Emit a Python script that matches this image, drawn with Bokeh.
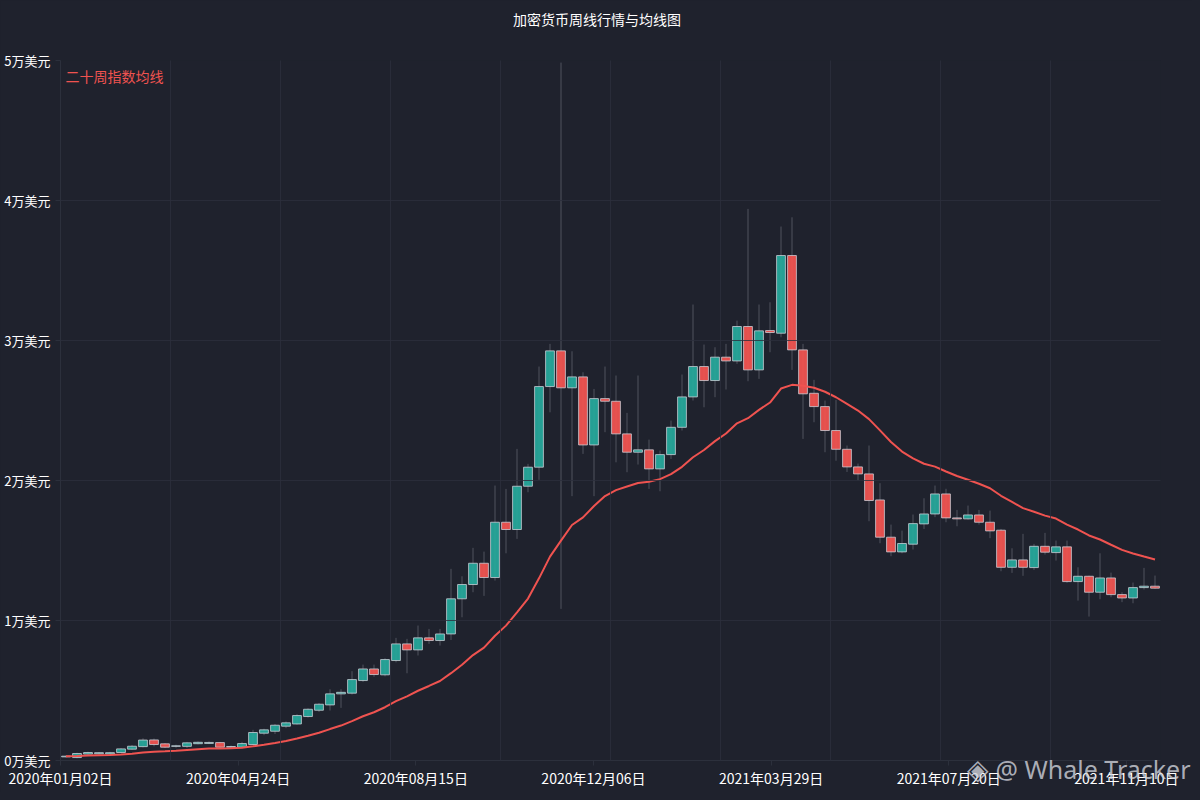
import pandas as pd
from bokeh.plotting import figure
from bokeh.models import ColumnDataSource, FixedTicker, Label, Range1d, Div
from bokeh.embed import file_html
from bokeh.resources import INLINE

# ---------------- data ----------------
title_text = "加密货币周线行情与均线图"
legend_text = "二十周指数均线"
watermark_icon = "◈"
watermark_text = "@ Whale Tracker"

opens = [260, 210, 460, 480, 470, 570, 810, 990, 1470, 1190,
         1010, 1010, 1200, 1220, 1280, 950, 950, 1140, 1950, 2090,
         2450, 2610, 3140, 3590, 3970, 4760, 4810, 5710, 6540, 6120,
         7140, 8330, 7900, 8760, 8570, 9040, 11550, 12570, 14090, 13070,
         17020, 16500, 19590, 20950, 26710, 29260, 26620, 27400, 22540, 25850,
         25660, 23330, 22020, 22190, 20830, 21850, 23800, 25970, 28140, 27140,
         28810, 28540, 31000, 27900, 30710, 30520, 36070, 29330, 26230, 25280,
         23570, 22230, 20970, 20470, 18610, 15950, 14900, 15450, 16900, 17610,
         19040, 17330, 17260, 17540, 17020, 16450, 13800, 14330, 13780, 15300,
         14850, 15260, 12780, 13160, 12020, 13040, 11850, 11610, 12350, 12450]
highs = [360, 560, 630, 610, 620, 890, 1110, 1590, 1570, 1250,
         1130, 1330, 1360, 1370, 1330, 1070, 1330, 2190, 2270, 2610,
         2790, 3310, 3730, 4110, 5090, 5090, 6380, 6850, 6850, 7310,
         8760, 8690, 9640, 9400, 9400, 13690, 13160, 15190, 14920, 19640,
         19400, 22260, 21190, 28140, 29760, 49850, 29230, 27730, 26540, 28140,
         27500, 24830, 27500, 22920, 22140, 24280, 27570, 32570, 29710, 29520,
         29760, 31420, 39400, 32570, 32730, 38140, 38800, 29760, 27190, 25710,
         25760, 22500, 21210, 22500, 19810, 16850, 16420, 17570, 18730, 19640,
         19410, 17900, 18210, 17900, 17850, 16540, 15160, 16190, 15470, 16260,
         15710, 15710, 13800, 13210, 14800, 13420, 12020, 12710, 13760, 13210]
lows = [210, 160, 410, 430, 410, 530, 760, 930, 1010, 890,
        910, 890, 1150, 1170, 910, 830, 910, 1090, 1810, 1890,
        2310, 2560, 3060, 3460, 3570, 3760, 4710, 5610, 5980, 6010,
        7010, 6230, 7500, 8330, 8210, 8610, 10230, 12020, 11760, 12850,
        14800, 15830, 19160, 20050, 24870, 10830, 18880, 21900, 18880, 23450,
        21300, 20590, 21140, 19400, 19230, 21540, 23570, 25710, 25230, 25950,
        26500, 28330, 27090, 27260, 29160, 30230, 27900, 22970, 24160, 22020,
        21410, 20610, 20010, 17090, 15520, 14590, 14800, 15070, 16540, 17380,
        17020, 16730, 17210, 16850, 15880, 13520, 13400, 13190, 13610, 14710,
        14280, 12690, 11420, 10280, 11520, 11660, 11310, 11230, 12210, 12260]
closes = [310, 500, 570, 560, 560, 830, 1020, 1460, 1140, 950,
          1050, 1260, 1300, 1290, 950, 1000, 1210, 2000, 2190, 2520,
          2690, 3210, 3660, 4020, 4760, 4870, 5780, 6540, 6140, 7210,
          8330, 7900, 8760, 8570, 9040, 11550, 12570, 14090, 13070, 17020,
          16500, 19590, 20950, 26710, 29260, 26620, 27400, 22540, 25850, 25660,
          23330, 22020, 22190, 20830, 21850, 23800, 25970, 28140, 27140, 28810,
          28540, 31000, 27900, 30690, 30570, 36070, 29330, 26190, 25280, 23570,
          22230, 20970, 20470, 18570, 15950, 14900, 15500, 16920, 17610, 19040,
          17330, 17260, 17540, 17020, 16400, 13800, 14330, 13800, 15300, 14880,
          15260, 12780, 13160, 12020, 13040, 11850, 11610, 12350, 12450, 12310]

x_tick_pos = [-0.5, 15.65, 31.8, 47.95, 64.1, 80.25, 96.4]
x_tick_labels = ["2020年01月02日", "2020年04月24日", "2020年08月15日", "2020年12月06日",
                 "2021年03月29日", "2021年07月20日", "2021年11月10日"]
y_ticks = [0, 10000, 20000, 30000, 40000, 50000]
y_tick_labels = ["0万美元", "1万美元", "2万美元", "3万美元", "4万美元", "5万美元"]

# ---------------- styling ----------------
BG = "#1f222d"
GRID = "#2c303c"
UP = "#26a69a"
DOWN = "#ef5350"
FONT = "Noto Sans CJK SC"

df = pd.DataFrame({"open": opens, "high": highs, "low": lows, "close": closes})
df["idx"] = range(len(df))
df["top"] = df[["open", "close"]].max(axis=1)
df["bottom"] = df[["open", "close"]].min(axis=1)
df["color"] = [UP if c >= o else DOWN for o, c in zip(df["open"], df["close"])]
df["ema"] = df["close"].ewm(span=20, adjust=False).mean()
src = ColumnDataSource(df)

p = figure(width=1192, height=792,
           x_range=Range1d(-0.5, len(df) - 0.5), y_range=Range1d(y_ticks[0], y_ticks[-1]),
           output_backend="svg", toolbar_location=None,
           background_fill_color=BG, border_fill_color=BG, outline_line_color=None,
           min_border_left=60, min_border_right=32, min_border_top=60, min_border_bottom=32)

p.segment(x0="idx", y0="high", x1="idx", y1="low", source=src,
          line_color="#787b86", line_alpha=0.55, line_width=1)
p.vbar(x="idx", width=0.8, top="top", bottom="bottom", source=src,
       fill_color="color", fill_alpha=0.95, line_color="#d1d4dc", line_alpha=0.75, line_width=1)
p.line(x="idx", y="ema", source=src, line_color=DOWN, line_width=2)

# grids
p.xgrid.ticker = FixedTicker(ticks=[-0.5 + 10 * k for k in range(11)])
p.ygrid.ticker = FixedTicker(ticks=y_ticks)
for g in (p.xgrid, p.ygrid):
    g.grid_line_color = GRID
    g.grid_line_alpha = 0.8
    g.grid_line_width = 1
    g.level = "overlay"

# axes
p.xaxis.ticker = FixedTicker(ticks=x_tick_pos)
p.xaxis.major_label_overrides = {t: l for t, l in zip(x_tick_pos, x_tick_labels)}
p.yaxis.ticker = FixedTicker(ticks=y_ticks)
p.yaxis.major_label_overrides = {t: l for t, l in zip(y_ticks, y_tick_labels)}
for ax in (p.xaxis, p.yaxis):
    ax.axis_line_color = GRID
    ax.major_tick_line_color = GRID
    ax.minor_tick_line_color = None
    ax.major_tick_out = 5
    ax.major_tick_in = 0
    ax.major_label_text_color = "#ffffff"
    ax.major_label_text_font = FONT
p.xaxis.major_label_text_font_size = "14px"
p.yaxis.major_label_text_font_size = "13px"
p.xaxis.major_label_standoff = 2
p.yaxis.major_label_standoff = 5

# legend-like label
p.add_layout(Label(x=-0.5, y=y_ticks[-1], x_offset=5, y_offset=-5, text=legend_text,
                   text_color=DOWN, text_font=FONT, text_font_size="14px",
                   text_baseline="top", text_align="left"))

# chart title (centred over the page)
title_div = Div(text=title_text,
                styles={"position": "absolute", "left": "592px", "top": "4px",
                        "transform": "translateX(-50%)", "color": "#ffffff",
                        "font-family": FONT, "font-size": "14px", "line-height": "20px",
                        "white-space": "nowrap", "z-index": "10"})

# watermark overlay (bottom-right corner of the page)
wm = Div(text='<span style="font-size:28px">%s</span> %s' % (watermark_icon, watermark_text),
         styles={"position": "absolute", "left": "962px", "top": "746px",
                 "color": "rgba(209,212,220,0.8)", "font-family": "Noto Sans",
                 "font-size": "25px", "line-height": "34px", "white-space": "nowrap",
                 "z-index": "10", "pointer-events": "none"})

html = file_html([p, title_div, wm], INLINE)
html = html.replace("<head>", "<head><style>html,body{background:%s;}</style>" % BG, 1)
open("out.html", "w").write(html)
